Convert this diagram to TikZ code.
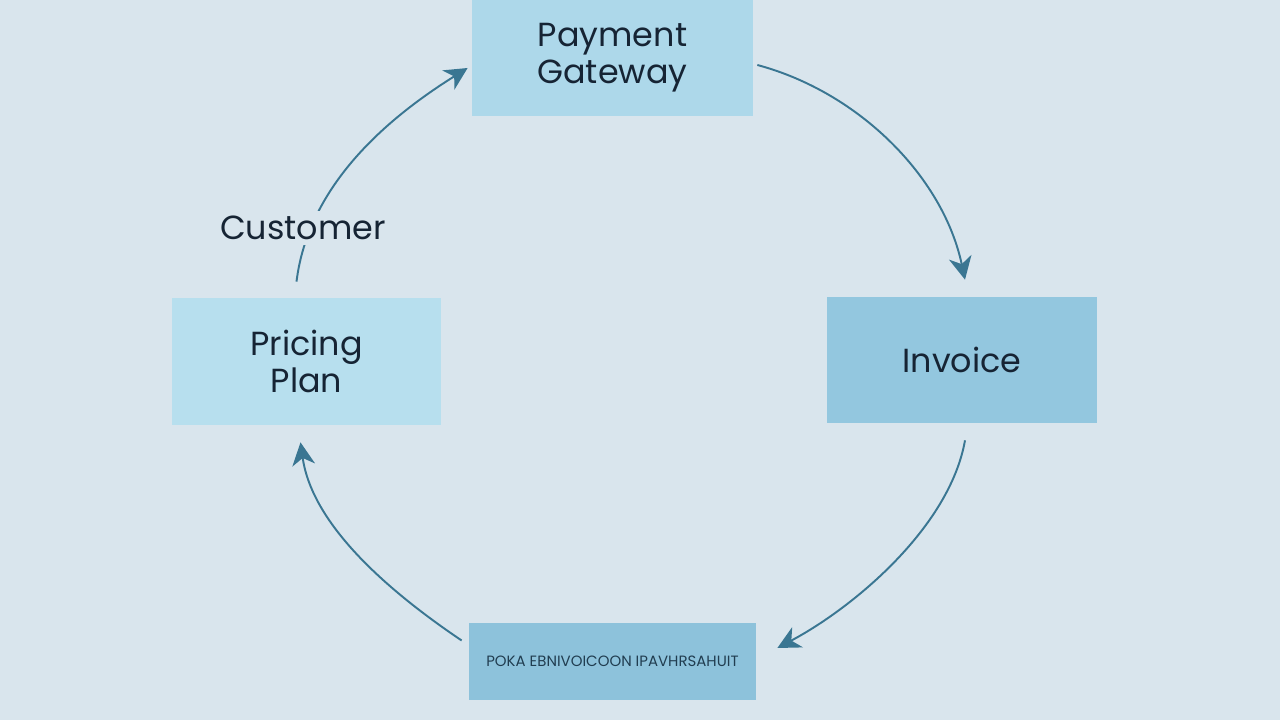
\documentclass[tikz,border=0pt]{standalone}
\definecolor{PageBlue}{RGB}{217,229,237}
\definecolor{PayBlue}{RGB}{173,216,234}
\definecolor{PlanBlue}{RGB}{183,223,238}
\definecolor{InvBlue}{RGB}{147,199,223}
\definecolor{BaseBlue}{RGB}{141,194,219}
\definecolor{ArrowTeal}{RGB}{58,118,146}
\definecolor{InkNavy}{RGB}{22,36,52}
\usepackage{fontspec}
\setmainfont{Poppins}
\usepackage{tikz}
\usetikzlibrary{arrows.meta, positioning, calc}

\begin{document}
\begin{tikzpicture}[font=\fontsize{19}{21}\selectfont, text=InkNavy,
	box/.style={inner sep=0pt, align=center},
	flow/.style={draw=ArrowTeal, line width=1.1pt, -{Stealth[length=13pt, width=13pt, inset=4pt]}}]
	\fill[PageBlue] (0,0) rectangle (25.6,14.4);
	\useasboundingbox (0,0) rectangle (25.6,14.4);
	% the four boxes of the cycle
	\node[box, fill=PayBlue, minimum width=5.62cm, minimum height=2.32cm] (payment) at (12.25,13.24) {Payment\\Gateway};
	\node[box, fill=PlanBlue, minimum width=5.38cm, minimum height=2.54cm] (pricing) at (6.13,7.17) {Pricing\\Plan};
	\node[box, fill=InvBlue, minimum width=5.4cm, minimum height=2.52cm] (invoice) at (19.24,7.2) {Invoice};
	\node[box, fill=BaseBlue, minimum width=5.74cm, minimum height=1.54cm, text=InkNavy!70!ArrowTeal,
		font=\fontsize{8.5}{10}\selectfont] (record) at (12.25,1.17) {POKA EBNIVOICOON IPAVHRSAHUIT};
	% arrows round the circle
	\draw[flow] ([shift={(-0.2,0.32)}]pricing.north) to[out=83, in=212, looseness=0.9] ([shift={(-0.08,-0.2)}]payment.west);
	\draw[flow] ([shift={(0.08,-0.14)}]payment.east) to[out=-15, in=102, looseness=0.9] ([shift={(0.06,0.34)}]invoice.north);
	\draw[flow] ([shift={(0.06,-0.34)}]invoice.south) to[out=-100, in=28, looseness=0.8] ([shift={(0.42,0.27)}]record.east);
	\draw[flow] ([shift={(-0.14,0.42)}]record.west) to[out=146, in=-82, looseness=0.85] ([shift={(-0.12,-0.34)}]pricing.south);
	\node[fill=PageBlue, inner sep=3pt] (customer) at (6.06,9.84) {Customer};
\end{tikzpicture}
\end{document}
